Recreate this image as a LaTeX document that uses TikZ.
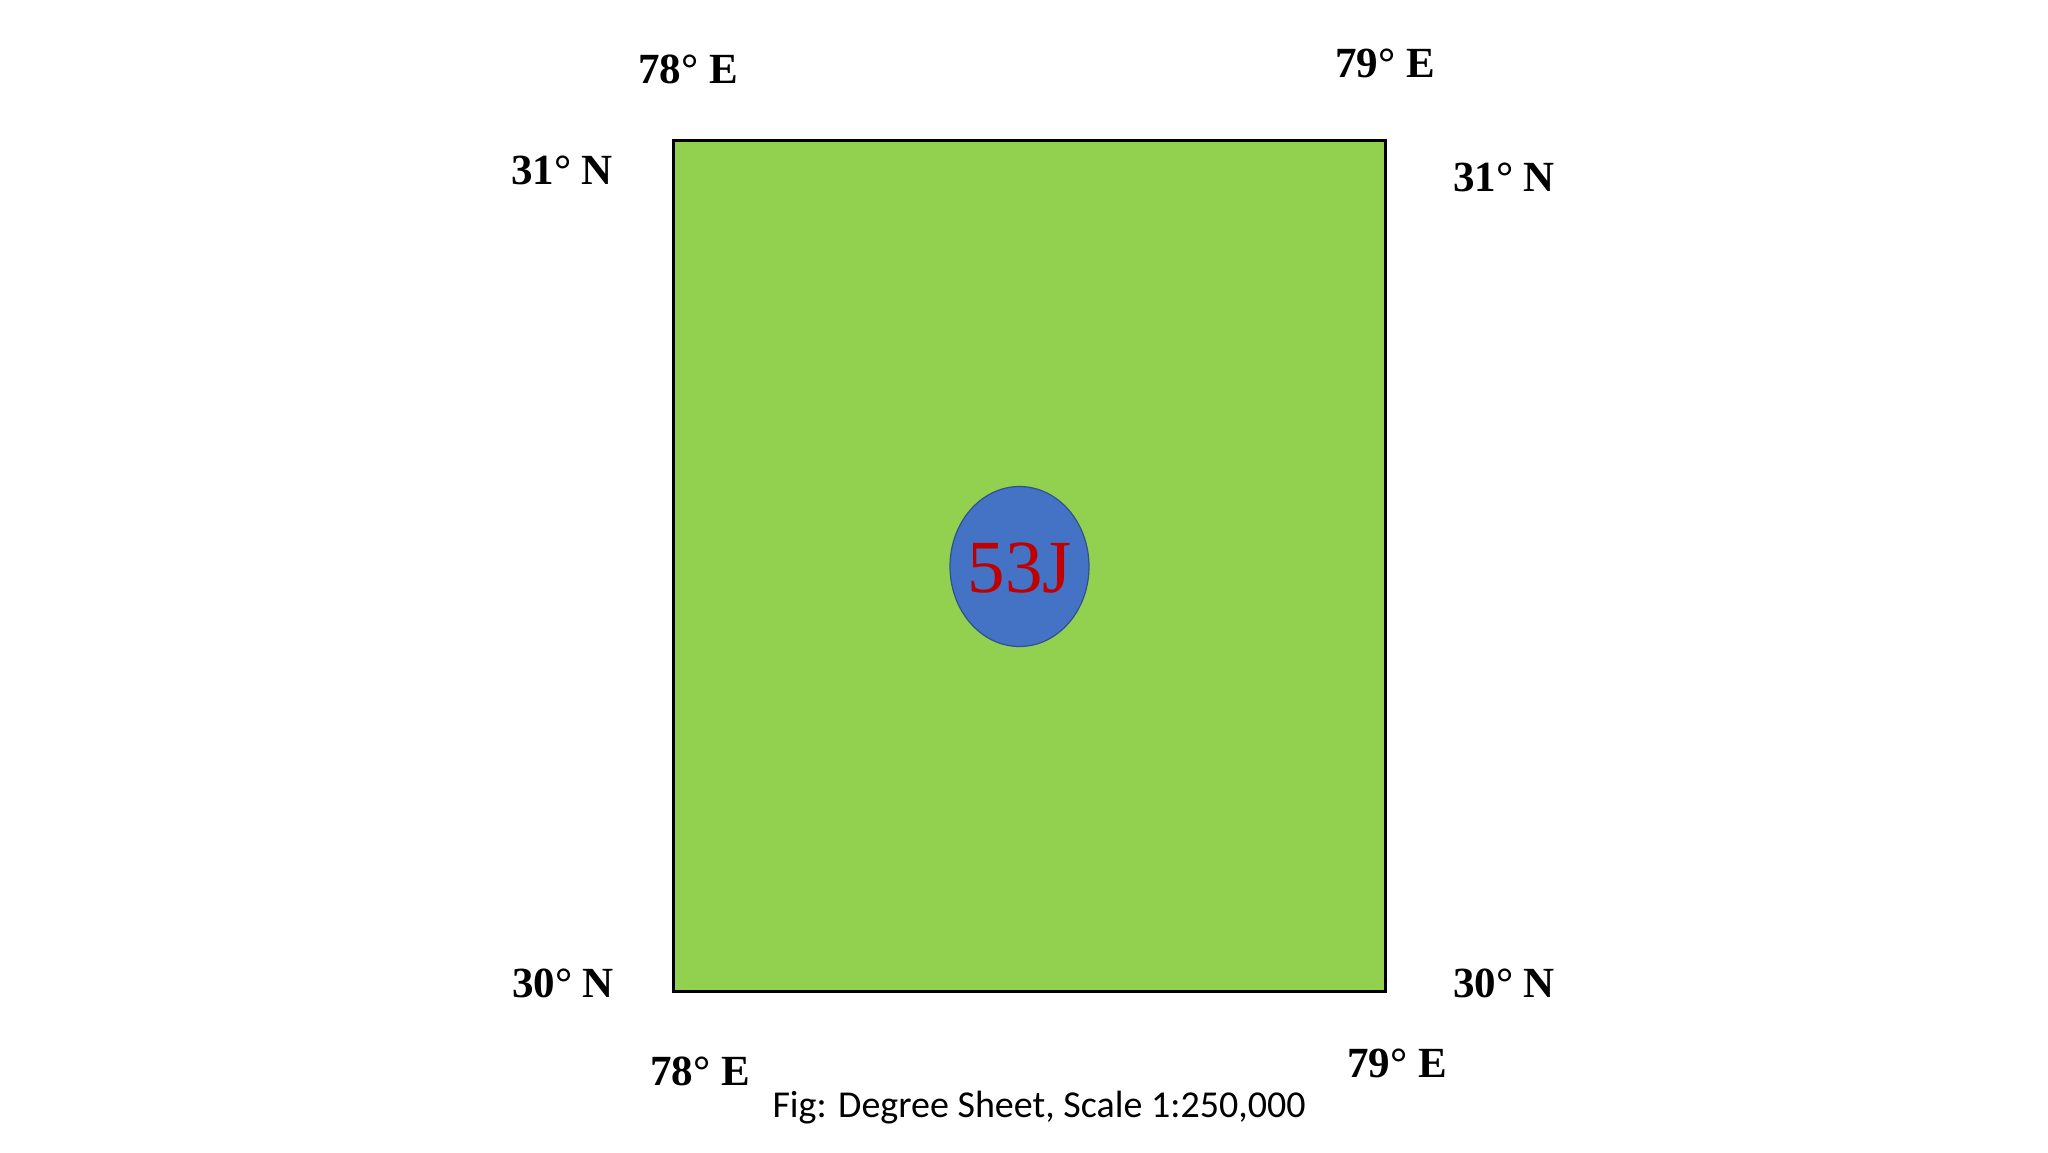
\documentclass[tikz,border=0pt]{standalone}
\usepackage{fontspec}
\setmainfont{Liberation Serif}
\newfontfamily\capfont{Carlito}
\usetikzlibrary{shapes.geometric}
\definecolor{sheetgreen}{HTML}{92D050}
\definecolor{ovalblue}{HTML}{4472C4}
\definecolor{ovaledge}{HTML}{2F528F}
\definecolor{labelred}{HTML}{C00000}
\tikzset{
  coord/.style={anchor=base, inner sep=0pt, font=\fontsize{43}{43}\selectfont\bfseries},
}
\begin{document}
\begin{tikzpicture}[x=1pt,y=-1pt]
\useasboundingbox (0,0) rectangle (2048,1152);
\fill[white] (0,0) rectangle (2048,1152);
\draw[line width=3pt, fill=sheetgreen] (673,140) rectangle (1385,991);
\node[ellipse, draw=ovaledge, line width=1.2pt, fill=ovalblue, minimum width=139pt, minimum height=160pt, inner sep=0pt] (oval) at (1019.5,566.5) {};
\node[anchor=base, inner sep=0pt, text=labelred, font=\fontsize{75}{75}\selectfont] (lab) at (1020,592) {53J};
\node[coord] (e78t) at (688,83) {78° E};
\node[coord] (e79t) at (1385,77) {79° E};
\node[coord] (n31l) at (562,184) {31° N};
\node[coord] (n31r) at (1504,191) {31° N};
\node[coord] (n30l) at (563,997) {30° N};
\node[coord] (n30r) at (1504,997) {30° N};
\node[coord] (e78b) at (700,1085) {78° E};
\node[coord] (e79b) at (1397,1077) {79° E};
\node[anchor=base, inner sep=0pt, font=\capfont\fontsize{38}{38}\selectfont] (cap) at (1039,1117) {Fig: Degree Sheet, Scale 1:250,000};
\end{tikzpicture}
\end{document}
